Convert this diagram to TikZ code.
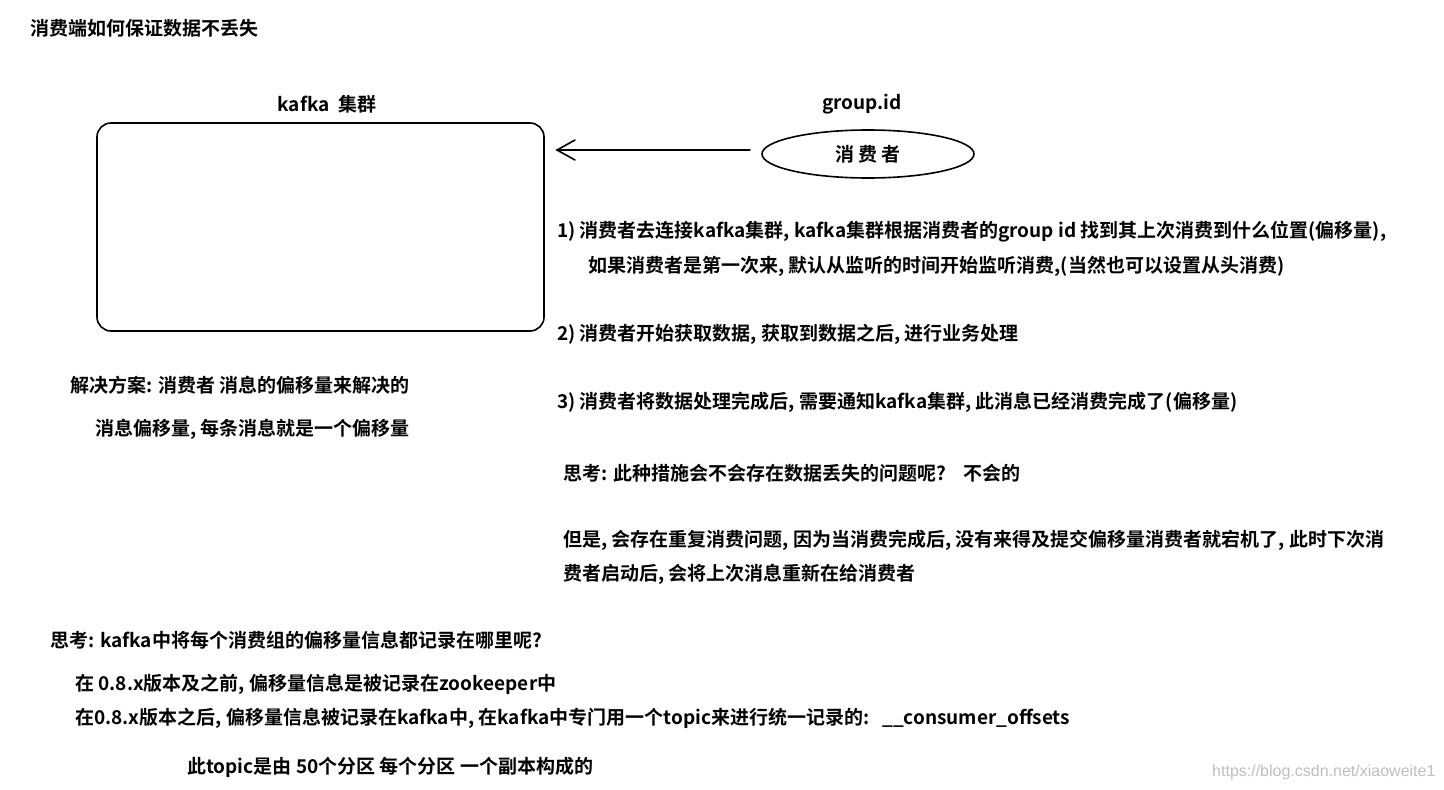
\documentclass[tikz,border=0pt]{standalone}
\usepackage{fontspec}
\usetikzlibrary{shapes.geometric}
\setmainfont{Noto Sans CJK SC Bold}
\newfontfamily\wm{Liberation Sans}
\begin{document}
\begin{tikzpicture}[x=1pt,y=-1pt,
  t/.style={anchor=west,inner sep=0pt,font=\fontsize{19}{21}\selectfont},
  c/.style={inner sep=0pt,font=\fontsize{19}{21}\selectfont}]
\useasboundingbox[fill=white] (0,0) rectangle (1444,790);
\node[t] (title) at (30,28) {消费端如何保证数据不丢失};
\node[c] (kl) at (327,104) {kafka\ \ 集群};
\draw[line width=1.6pt,rounded corners=14pt] (97,123) rectangle (544,331);
\coordinate (kin) at (557,150);
\node[c] (gid) at (862,104) {group.id};
\node[draw,line width=1.6pt,ellipse,minimum width=212pt,minimum height=48pt,inner sep=0pt,font=\fontsize{19}{21}\selectfont] (cons) at (868,154) {消 费 者};
\coordinate (aout) at (750,150);
\draw[line width=1.6pt,line cap=round] (aout) -- (kin);
\draw[line width=1.6pt,line cap=round] (575,140) -- (kin) -- (575,160);
\node[t] (s1) at (557,232) {1) 消费者去连接kafka集群, kafka集群根据消费者的group id 找到其上次消费到什么位置(偏移量),};
\node[t] (s1b) at (588,266) {如果消费者是第一次来, 默认从监听的时间开始监听消费,(当然也可以设置从头消费)};
\node[t] (s2) at (557,334) {2) 消费者开始获取数据, 获取到数据之后, 进行业务处理};
\node[t] (s3) at (557,402) {3) 消费者将数据处理完成后, 需要通知kafka集群, 此消息已经消费完成了(偏移量)};
\node[t] (q1) at (563,473) {思考: 此种措施会不会存在数据丢失的问题呢?};
\node[t] (a1) at (963,473) {不会的};
\node[t] (b1) at (563,540) {但是, 会存在重复消费问题, 因为当消费完成后, 没有来得及提交偏移量消费者就宕机了, 此时下次消};
\node[t] (b2) at (563,574) {费者启动后, 会将上次消息重新在给消费者};
\node[t] (sol) at (70,385) {解决方案: 消费者 消息的偏移量来解决的};
\node[t] (sol2) at (95,429) {消息偏移量, 每条消息就是一个偏移量};
\node[t] (q2) at (50,640) {思考: kafka中将每个消费组的偏移量信息都记录在哪里呢?};
\node[t] (r1) at (75,684) {在 0.8.x版本及之前, 偏移量信息是被记录在zookeeper中};
\node[t] (r2) at (75,718) {在0.8.x版本之后, 偏移量信息被记录在kafka中, 在kafka中专门用一个topic来进行统一记录的:\ \ \ \_\_consumer\_offsets};
\node[t] (r3) at (187,767) {此topic是由 50个分区 每个分区 一个副本构成的};
\node[t,font=\wm\fontsize{16}{18}\selectfont,text=black!25] (wmk) at (1212,772) {https://blog.csdn.net/xiaoweite1};
\end{tikzpicture}
\end{document}
